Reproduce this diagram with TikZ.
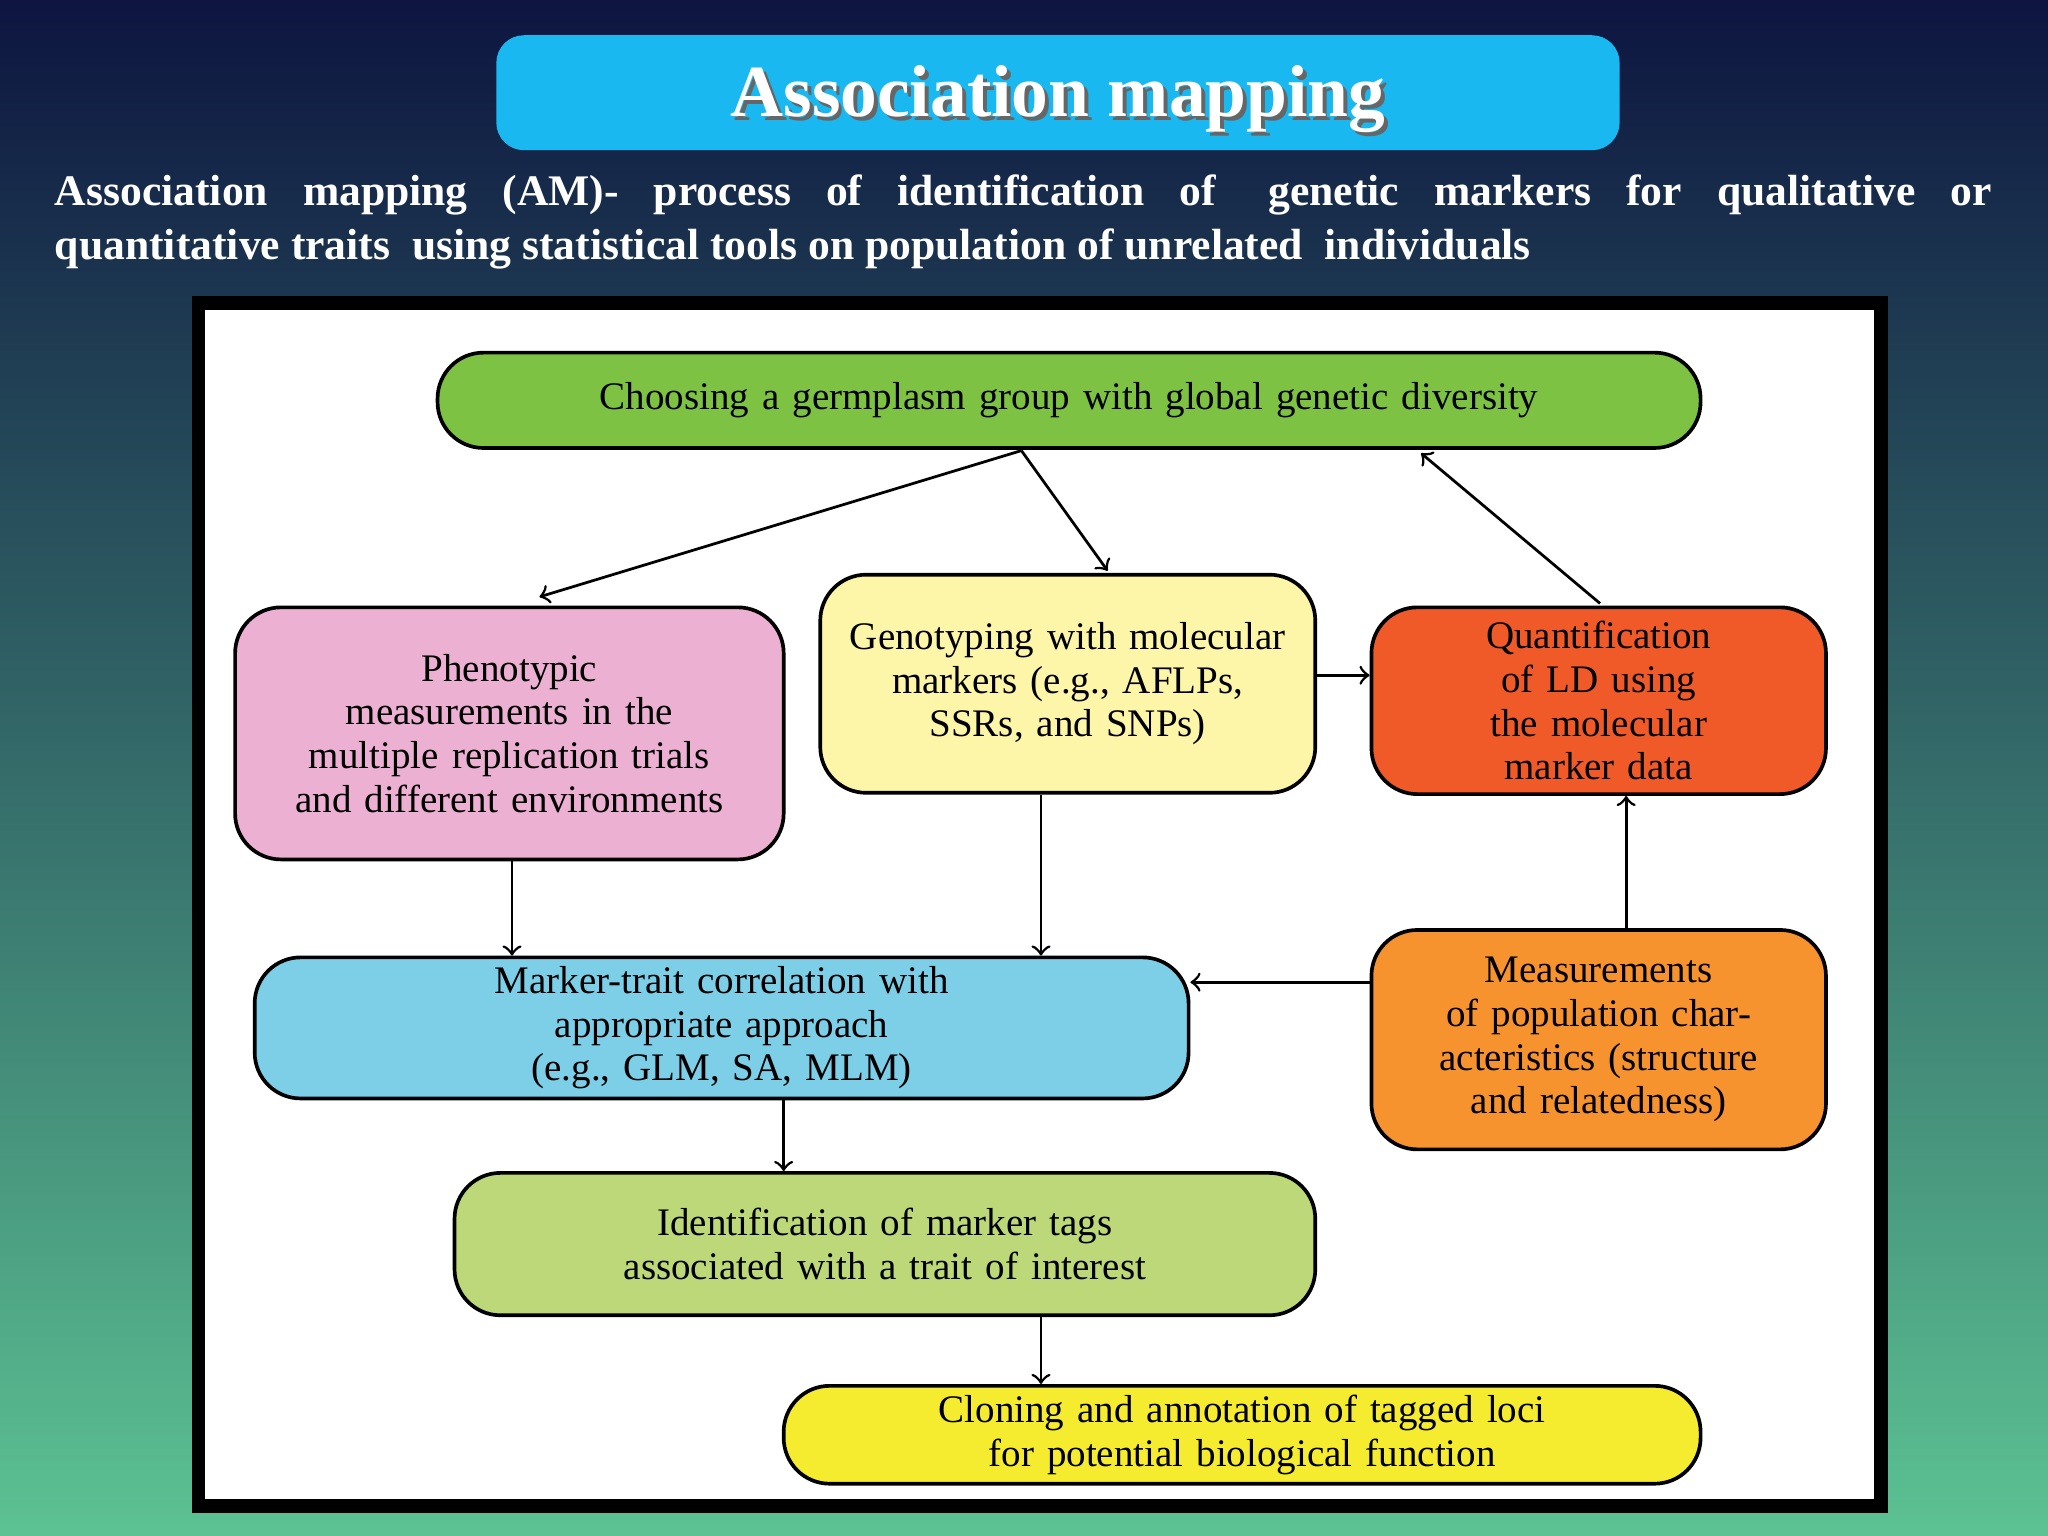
\documentclass[tikz,border=0pt]{standalone}
\usepackage{fontspec}
\setmainfont{Liberation Serif}
\usetikzlibrary{positioning}
\definecolor{navy}{HTML}{0D1540}
\definecolor{sea}{HTML}{5CC293}
\definecolor{cyanbox}{HTML}{1AB8F0}
\begin{document}
\begin{tikzpicture}[b/.style={draw, rounded corners=10pt, thick, align=center, font=\fontsize{8.5}{9.5}\selectfont, inner sep=2pt}, a/.style={->, semithick}]
		\shade[top color=navy, bottom color=sea] (0,0) rectangle (15.68,-11.76);
		\useasboundingbox (0,0) rectangle (15.68,-11.76);
		\node[fill=cyanbox, rounded corners=6pt, minimum width=8.6cm, minimum height=0.88cm] (T) at (8.1,-0.71) {};
		\node[text=black!60, font=\bfseries\fontsize{16}{18}\selectfont] at (8.13,-0.79) {Association mapping};
		\node[text=white, font=\bfseries\fontsize{16}{18}\selectfont] at (8.1,-0.76) {Association mapping};
		\node[text=white, font=\bfseries\fontsize{9.5}{11.8}\selectfont, text width=14.83cm, align=justify, inner sep=0] (S) at (7.835,-1.7) {\hyphenpenalty=10000 Association\ \ mapping\ \ (AM)-\ \ process\ \ of\ \ identification\ \ of\ \ \ genetic\ \ markers\ \ for\ \ qualitative\ \ or\linebreak quantitative traits\ \ using statistical tools on population of unrelated\ \ individuals\hfill\null};
		\fill[black!50] (1.56,-2.36) rectangle (14.44,-11.57);
		\draw[line width=3pt, fill=white] (1.52,-2.32) rectangle (14.40,-11.53);

		\node[b, fill={rgb,255:red,125;green,194;blue,66}, minimum width=9.67cm, minimum height=0.73cm, text width=8.4cm] (A) at (8.185,-3.065) {Choosing a germplasm group with global genetic diversity};
		\node[b, fill={rgb,255:red,235;green,176;blue,210}, minimum width=4.2cm, minimum height=1.93cm, text width=3.7cm] (B) at (3.9,-5.615) {Phenotypic\\ measurements in the multiple replication trials and different environments};
		\node[b, fill={rgb,255:red,253;green,245;blue,168}, minimum width=3.79cm, minimum height=1.67cm, text width=3.4cm] (C) at (8.175,-5.235) {Genotyping with molecular markers (e.g., AFLPs,\\ SSRs, and SNPs)};
		\node[b, fill={rgb,255:red,240;green,90;blue,40}, minimum width=3.48cm, minimum height=1.43cm, text width=3.1cm] (D) at (12.24,-5.365) {Quantification\\ of LD using\\ the molecular\\ marker data};
		\node[b, fill={rgb,255:red,125;green,207;blue,232}, minimum width=7.15cm, minimum height=1.0cm, text width=6.5cm] (E) at (5.525,-7.87) {Marker-trait correlation with\\ appropriate approach\\ (e.g., GLM, SA, MLM)};
		\node[b, fill={rgb,255:red,247;green,147;blue,47}, minimum width=3.48cm, minimum height=1.68cm, text width=3.2cm] (F) at (12.24,-7.96) {Measurements\\ of population characteristics (structure and relatedness)};
		\node[b, fill={rgb,255:red,188;green,216;blue,120}, minimum width=6.59cm, minimum height=1.09cm, text width=6.2cm] (G) at (6.775,-9.525) {Identification of marker tags\\ associated with a trait of interest};
		\node[b, fill={rgb,255:red,245;green,236;blue,47}, minimum width=7.02cm, minimum height=0.73cm, text width=6.6cm] (H) at (9.51,-10.985) {Cloning and annotation of tagged loci\\ for potential biological function};

		\coordinate (a1) at (7.82,-3.45);
		\draw[a] (a1) -- (4.13,-4.57);
		\draw[a] (a1) -- (8.48,-4.37);
		\draw[a] (12.25,-4.62) -- (10.88,-3.47);
		\draw[a] (C.east |- 0,-5.17) -- (D.west |- 0,-5.17);
		\draw[a] (B.south -| 3.92,0) -- (E.north -| 3.92,0);
		\draw[a] (C.south -| 7.97,0) -- (E.north -| 7.97,0);
		\draw[a] (F.west |- 0,-7.52) -- (E.east |- 0,-7.52);
		\draw[a] (F.north -| 12.45,0) -- (D.south -| 12.45,0);
		\draw[a] (E.south -| 6.0,0) -- (G.north -| 6.0,0);
		\draw[a] (G.south -| 7.97,0) -- (H.north -| 7.97,0);
	\end{tikzpicture}
\end{document}
